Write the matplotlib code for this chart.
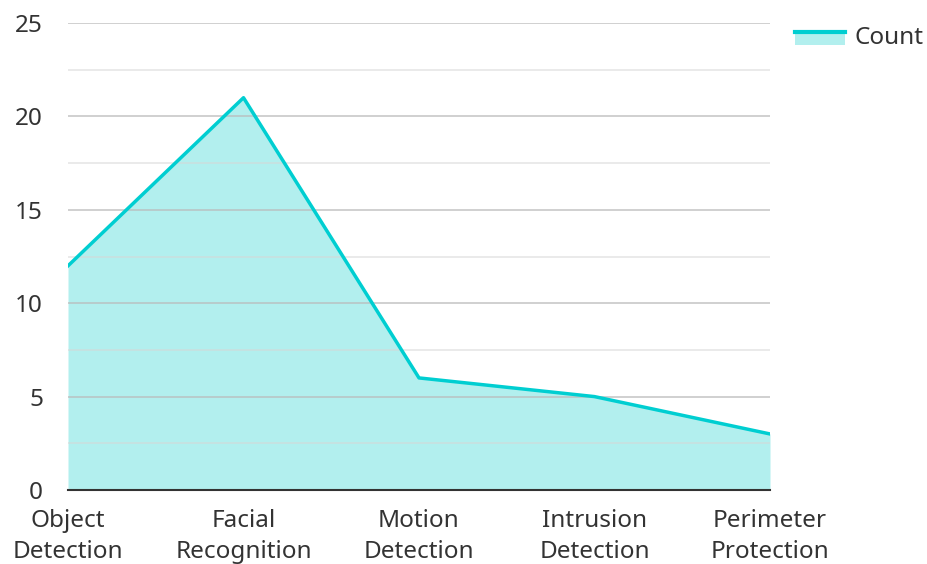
import matplotlib.pyplot as plt
from matplotlib.patches import Rectangle
from matplotlib.lines import Line2D
from matplotlib.legend_handler import HandlerBase

plt.rcParams['font.family'] = ['Noto Sans', 'DejaVu Sans']

categories = ['Object\nDetection', 'Facial\nRecognition', 'Motion\nDetection',
              'Intrusion\nDetection', 'Perimeter\nProtection']
counts = [12, 21, 6, 5, 3]

line_color = '#00CED1'
fill_color = '#B2EFEE'
fs = 17.5


class AreaHandler(HandlerBase):
    # line on top of a filled box, like the area legend in the original
    def create_artists(self, legend, orig_handle, xdescent, ydescent,
                       width, height, fontsize, trans):
        top = height * 0.72
        box = Rectangle((-xdescent, -ydescent - 1), width, top + 1,
                        facecolor=fill_color, edgecolor='none', transform=trans)
        ln = Line2D([-xdescent, -xdescent + width], [top, top],
                    color=line_color, linewidth=3, transform=trans)
        return [box, ln]


fig = plt.figure(figsize=(9.28, 5.64), dpi=100)
ax = fig.add_axes([68 / 928, 74 / 564, 702 / 928, 467 / 564])

x = list(range(len(categories)))
ax.fill_between(x, counts, 0, color=fill_color, zorder=1, linewidth=0)
area_line, = ax.plot(x, counts, color=line_color, linewidth=2.5, zorder=3)

ax.set_xlim(0, len(categories) - 1)
ax.set_ylim(0, 25)
ax.set_yticks([0, 5, 10, 15, 20, 25])
ax.set_yticks([2.5, 7.5, 12.5, 17.5, 22.5], minor=True)
ax.grid(axis='y', which='major', color='#bbbbbb', linewidth=1.2, alpha=0.8, zorder=2)
ax.grid(axis='y', which='minor', color='#d6d6d6', linewidth=1.2, alpha=0.6, zorder=2)
ax.set_axisbelow(False)

ax.set_xticks(x)
ax.set_xticklabels(categories, color='#333333', linespacing=1.37)
ax.tick_params(axis='both', which='both', length=0, labelsize=fs, labelcolor='#333333')
ax.tick_params(axis='y', pad=18)
ax.tick_params(axis='x', pad=14)

for s in ['top', 'right', 'left']:
    ax.spines[s].set_visible(False)
ax.spines['bottom'].set_color('#333333')
ax.spines['bottom'].set_linewidth(1.5)
ax.spines['bottom'].set_zorder(4)

fig.legend([area_line], ['Count'], loc='upper left',
           bbox_to_anchor=(795 / 928, 1 - 26 / 564),
           handler_map={area_line: AreaHandler()},
           frameon=False, fontsize=fs, handlelength=2.05, handleheight=0.7,
           handletextpad=0.4, borderpad=0, borderaxespad=0,
           labelcolor='#333333')

fig.savefig('out.png', dpi=100)
